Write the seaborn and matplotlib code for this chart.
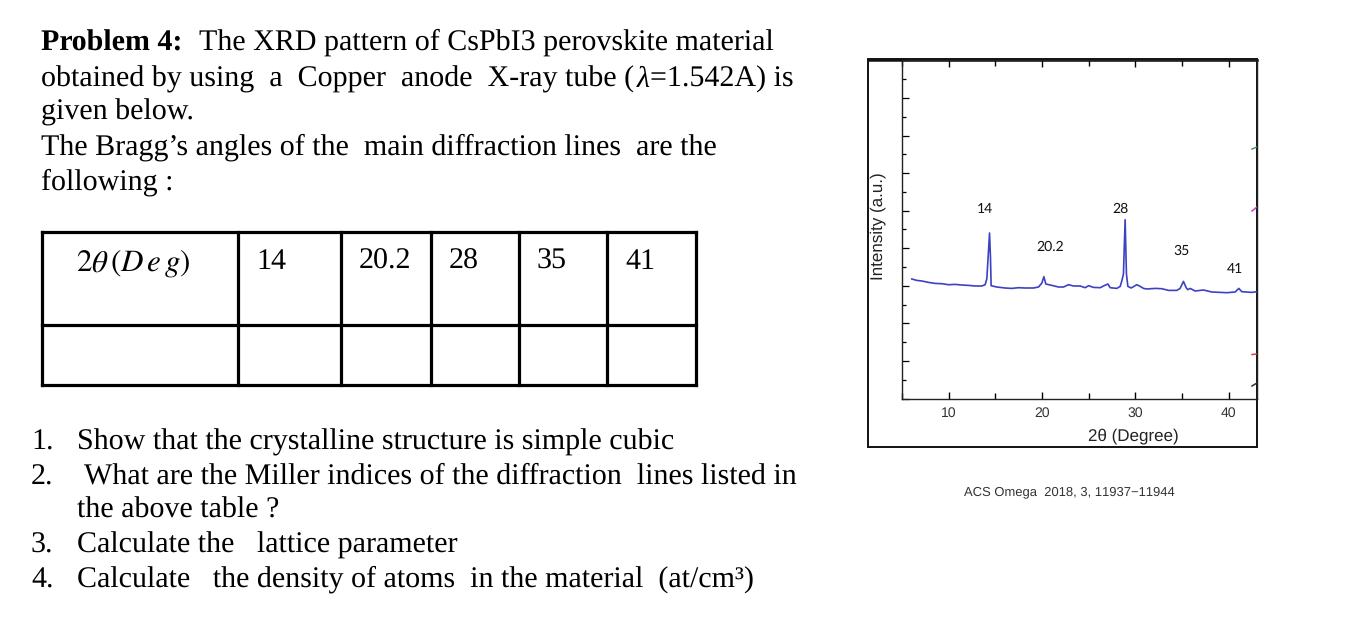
import matplotlib
matplotlib.use("Agg")
import matplotlib.pyplot as plt
import pandas as pd
import seaborn as sns
from matplotlib.patches import Rectangle
from matplotlib.ticker import MultipleLocator, NullFormatter

# xrd curve
two_theta = [6.05, 6.59, 7.13, 7.84, 8.55, 9.27, 9.98, 10.70, 11.41, 12.13, 12.84, 13.55, 13.91, 14.09,
             14.27, 14.38, 14.48, 14.55, 15.16, 16.05, 16.77, 17.48, 18.2, 19.09, 19.63, 19.99, 20.2,
             20.41, 20.88, 21.77, 22.31, 22.84, 23.38, 24.09, 24.63, 24.99, 25.52, 26.24, 26.59, 27.06,
             27.31, 28.02, 28.38, 28.56, 28.73, 28.91, 29.05, 29.2, 29.56, 30.16, 30.52, 30.88, 31.23,
             32.13, 32.84, 33.56, 34.45, 34.8, 35.16, 35.45, 35.63, 35.88, 36.41, 37.3, 38.2, 39.8,
             40.7, 41.09, 41.41, 42.48, 43.02]
intensity = [119.7, 118.3, 117.7, 116.3, 115.3, 115, 114, 114.3, 113.7, 113.3, 112.7, 112.7, 114, 120,
             148, 165.7, 141.3, 113, 111.7, 110.7, 110.3, 111, 110.7, 110.7, 111.7, 115.7, 122,
             114.7, 113.7, 111.7, 111.7, 114, 112.7, 112.7, 111, 113, 111.3, 111, 112.7, 114.7,
             111, 110.3, 112.3, 118, 124.7, 179, 124.7, 112.3, 110.7, 114, 112.3, 110.3, 109.7,
             110.3, 110, 108.3, 108.3, 110.3, 117.3, 111, 109, 110.3, 107.7, 108.7, 106.7, 106,
             106.7, 110.3, 107, 106.3, 107]

peak_labels = ["14", "20.2", "28", "35", "41"]
peak_x = [13.9, 20.9, 28.4, 35.0, 40.7]
peak_y = [190, 152, 190, 148, 130]

table_angles = ["14", "20.2", "28", "35", "41"]
table_col_edges = [42, 238, 341, 431, 519, 607, 696]
table_row_edges = [232, 325, 385]

plt.rcParams["font.family"] = ["Liberation Serif", "DejaVu Serif"]
plt.rcParams["text.hinting"] = "no_hinting"
plt.rcParams["text.hinting_factor"] = 1
W, H = 1356, 625
fig = plt.figure(figsize=(W / 100, H / 100), dpi=100, facecolor="white")

# page layer in pixel coordinates for the text and the table
page = fig.add_axes([0, 0, 1, 1])
page.set_xlim(0, W)
page.set_ylim(H, 0)
page.axis("off")

fs = 21.6


def put(x, y, s, **kw):
    kw.setdefault("fontsize", fs)
    kw.setdefault("color", "black")
    page.text(x, y, s, va="baseline", **kw)


put(41, 51, "Problem 4:", fontweight="bold")
put(199, 50, "The XRD pattern of CsPbI3 perovskite material")
put(41, 87, "obtained by using  a  Copper  anode  X-ray tube (")
put(637, 87, "\u03bb", style="italic")
put(650, 87, "=1.542A) is")
put(41, 120, "given below.")
put(41, 155, "The Bragg\u2019s angles of the  main diffraction lines  are the")
put(41, 190, "following :")

put(31, 450, "1.")
put(77, 450, "Show that the crystalline structure is simple cubic")
put(31, 485, "2.")
put(84, 484, "What are the Miller indices of the diffraction  lines listed in")
put(77, 518, "the above table ?")
put(31, 553, "3.")
put(77, 553, "Calculate the   lattice parameter")
put(31, 588, "4.")
put(77, 587, "Calculate   the density of atoms  in the material  (at/cm\u00b3)")

# table grid
for x in table_col_edges:
    page.plot([x, x], [table_row_edges[0], table_row_edges[-1]], color="black", lw=2.3,
              solid_capstyle="projecting")
for y in table_row_edges:
    page.plot([table_col_edges[0], table_col_edges[-1]], [y, y], color="black", lw=2.3,
              solid_capstyle="projecting")
put(76, 272, r"$\mathit{2\theta\,(D\,e\,g)}$", math_fontfamily="stix", fontsize=22)
for left, label in zip(table_col_edges[1:-1], table_angles):
    put(left + 18, 269, label)

# outer frame of the pasted figure
page.add_patch(Rectangle((868, 59), 389, 388, fill=False, edgecolor="#111111", lw=1.4))
page.plot([868, 1257], [59.5, 59.5], color="#111111", lw=1.8)
sans = ["Liberation Sans", "DejaVu Sans"]
page.text(878, 226, "Intensity (a.u.)", rotation=90, ha="center", va="center",
          family=sans, fontsize=12.5, color="#222222")
page.text(1133, 436, "2\u03b8 (Degree)", ha="center", va="center", family=sans, fontsize=12.2, color="#222222")
page.text(1069, 492, "ACS Omega  2018, 3, 11937\u221211944", ha="center", va="center",
          family=sans, fontsize=9.3, color="#333333")

# small coloured leftovers on the right edge
for y0, y1, c in [(149, 147, "#4f9a63"), (211, 207, "#c83fc0"), (354.5, 354, "#d84048"), (386, 383, "#333333")]:
    page.plot([1252, 1257], [y0, y1], color=c, lw=1.1)

# xrd panel
ax = fig.add_axes([902 / W, 1 - 398.7 / H, 355 / W, 338.7 / H])
ax.patch.set_alpha(0)
df = pd.DataFrame({"two_theta": two_theta, "intensity": intensity})
sns.lineplot(data=df, x="two_theta", y="intensity", ax=ax, color="#3d42c2", lw=1.2, estimator=None)
ax.set_xlim(5, 43.04)
ax.set_ylim(0, 338.7)
ax.set_xlabel("")
ax.set_ylabel("")
ax.xaxis.set_major_locator(MultipleLocator(10))
ax.xaxis.set_minor_locator(MultipleLocator(5))
ax.yaxis.set_major_locator(MultipleLocator(37.6))
ax.yaxis.set_minor_locator(MultipleLocator(18.8))
ax.yaxis.set_major_formatter(NullFormatter())
ax.tick_params(axis="x", which="major", direction="in", top=True, length=4.8, width=1.0, labelsize=10,
               labelcolor="#333333", pad=5.7)
ax.tick_params(axis="x", which="minor", direction="in", top=True, length=4, width=1.0)
ax.tick_params(axis="y", which="major", direction="in", length=5, width=0.9)
ax.tick_params(axis="y", which="minor", direction="in", length=3, width=0.9)
for label in ax.get_xticklabels():
    label.set_family(sans)
for spine in ax.spines.values():
    spine.set_linewidth(1.0)
    spine.set_color("#222222")
for label, x, y in zip(peak_labels, peak_x, peak_y):
    ax.text(x, y, label, ha="center", va="center", family=["Lato", "DejaVu Sans"], fontsize=10, color="#111111")

fig.savefig("out.png", dpi=100)
